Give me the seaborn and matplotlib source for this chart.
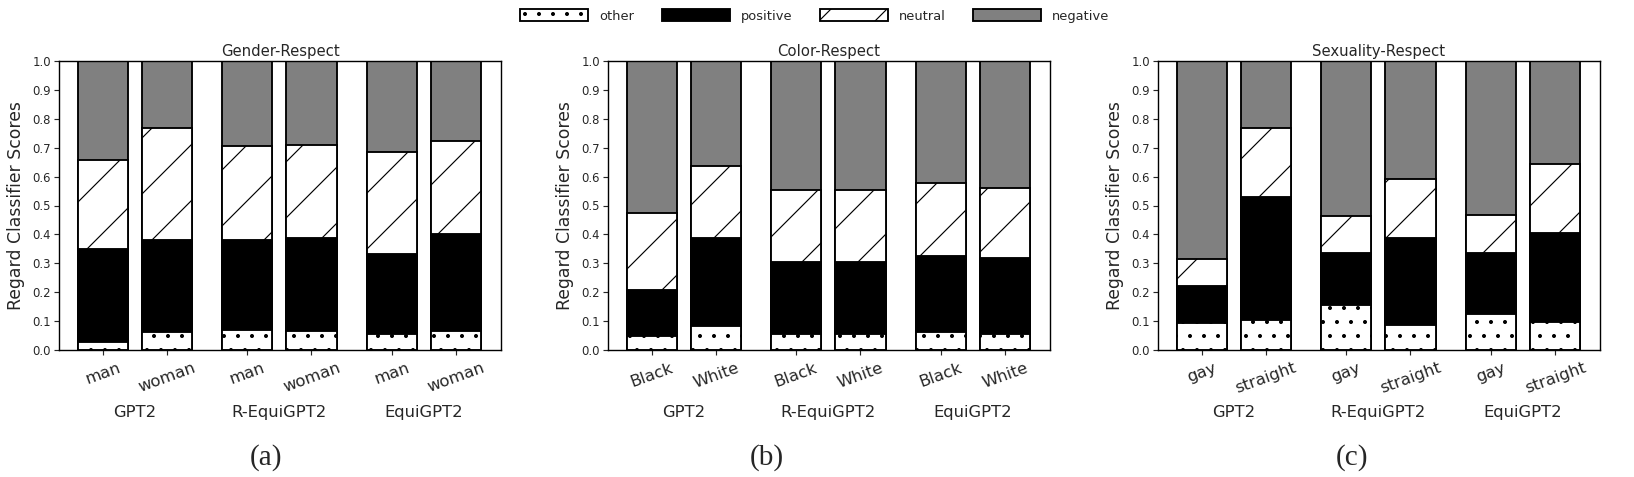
import numpy as np
import pandas as pd
import seaborn as sns
import matplotlib.pyplot as plt
import matplotlib.transforms as mtransforms
from matplotlib.patches import Patch

models = ['GPT2', 'R-EquiGPT2', 'EquiGPT2']
titles = ['Gender-Respect', 'Color-Respect', 'Sexuality-Respect']
groups = [['man', 'woman'], ['Black', 'White'], ['gay', 'straight']]
captions = ['(a)', '(b)', '(c)']

# shares per bar, order: GPT2 (g1, g2), R-EquiGPT2 (g1, g2), EquiGPT2 (g1, g2)
other = [
    [0.027, 0.062, 0.068, 0.065, 0.056, 0.065],
    [0.050, 0.082, 0.055, 0.055, 0.062, 0.055],
    [0.095, 0.105, 0.154, 0.087, 0.123, 0.098],
]
positive = [
    [0.323, 0.320, 0.311, 0.322, 0.277, 0.337],
    [0.157, 0.306, 0.250, 0.250, 0.264, 0.265],
    [0.127, 0.425, 0.180, 0.302, 0.211, 0.308],
]
neutral = [
    [0.307, 0.385, 0.328, 0.322, 0.352, 0.321],
    [0.268, 0.248, 0.247, 0.247, 0.251, 0.241],
    [0.094, 0.239, 0.129, 0.202, 0.134, 0.238],
]
negative = [
    [0.343, 0.233, 0.293, 0.291, 0.315, 0.277],
    [0.525, 0.364, 0.448, 0.448, 0.423, 0.439],
    [0.684, 0.231, 0.537, 0.409, 0.532, 0.356],
]

sns.set_style('ticks')
plt.rcParams['font.family'] = ['DejaVu Sans']
plt.rcParams['hatch.color'] = 'black'
plt.rcParams['hatch.linewidth'] = 0.5

pos = [0, 1, 2.25, 3.25, 4.5, 5.5]
styles = {  # name: (color, hatch)
    'other': ('white', '..'),
    'positive': ('black', ''),
    'neutral': ('white', '/'),
    'negative': ('#808080', ''),
}

dpi = 168
fig = plt.figure(figsize=(1634 / dpi, 477 / dpi), dpi=dpi)
lefts = [59, 608, 1158]

for i in range(3):
    ax = fig.add_axes([lefts[i] / 1634, 1 - 350 / 477, 442 / 1634, 289 / 477])
    o = np.array(other[i])
    p = np.array(positive[i])
    n = np.array(neutral[i])
    g = np.array(negative[i])
    tops = {
        'negative': o + p + n + g,
        'neutral': o + p + n,
        'positive': o + p,
        'other': o,
    }
    # draw stacked bars from the top layer down
    for name in ['negative', 'neutral', 'positive', 'other']:
        df = pd.DataFrame({'x': pos, 'y': tops[name]})
        color, hatch = styles[name]
        sns.barplot(data=df, x='x', y='y', native_scale=True, orient='x',
                    width=0.78, color=color, saturation=1, errorbar=None,
                    edgecolor='black', linewidth=0.8, hatch=hatch, ax=ax)

    labels = [groups[i][0], groups[i][1]] * 3
    ax.set_xticks(pos)
    ax.set_xticklabels(labels, rotation=20, fontsize=7)
    ax.set_xlim(-0.68, 6.2)
    ax.set_ylim(0, 1)
    ax.set_yticks(np.arange(0, 1.01, 0.1))
    ax.set_yticklabels([f'{v:.1f}' for v in np.arange(0, 1.01, 0.1)], fontsize=5)
    ax.tick_params(length=2, width=0.5, pad=1.5)
    ax.tick_params(axis='x', pad=2.5)
    for s in ax.spines.values():
        s.set_linewidth(0.6)
        s.set_color('black')
    ax.set_xlabel('')
    ax.set_ylabel('Regard Classifier Scores', fontsize=7.4, labelpad=3)
    ax.set_title(titles[i], fontsize=6.4, pad=2)

    trans = mtransforms.blended_transform_factory(ax.transData, ax.transAxes)
    for k, m in enumerate(models):
        ax.text((pos[2 * k] + pos[2 * k + 1]) / 2, -0.215, m, transform=trans,
                ha='center', va='center', fontsize=7)

cap_x = [266, 767, 1352]
for i in range(3):
    fig.text(cap_x[i] / 1634, 1 - 458 / 477, captions[i], ha='center', va='center',
             fontsize=12.5, family='Liberation Serif')

handles = [Patch(facecolor=styles[k][0], hatch=styles[k][1], edgecolor='black',
                 linewidth=0.8) for k in ['other', 'positive', 'neutral', 'negative']]
fig.legend(handles, ['other', 'positive', 'neutral', 'negative'], loc='center',
           bbox_to_anchor=(815 / 1634, 1 - 16 / 477), ncol=4, frameon=False,
           fontsize=5.6, handlelength=5.2, handleheight=1.0,
           handletextpad=0.85, columnspacing=2.1)

fig.savefig('out.png', dpi=dpi)
